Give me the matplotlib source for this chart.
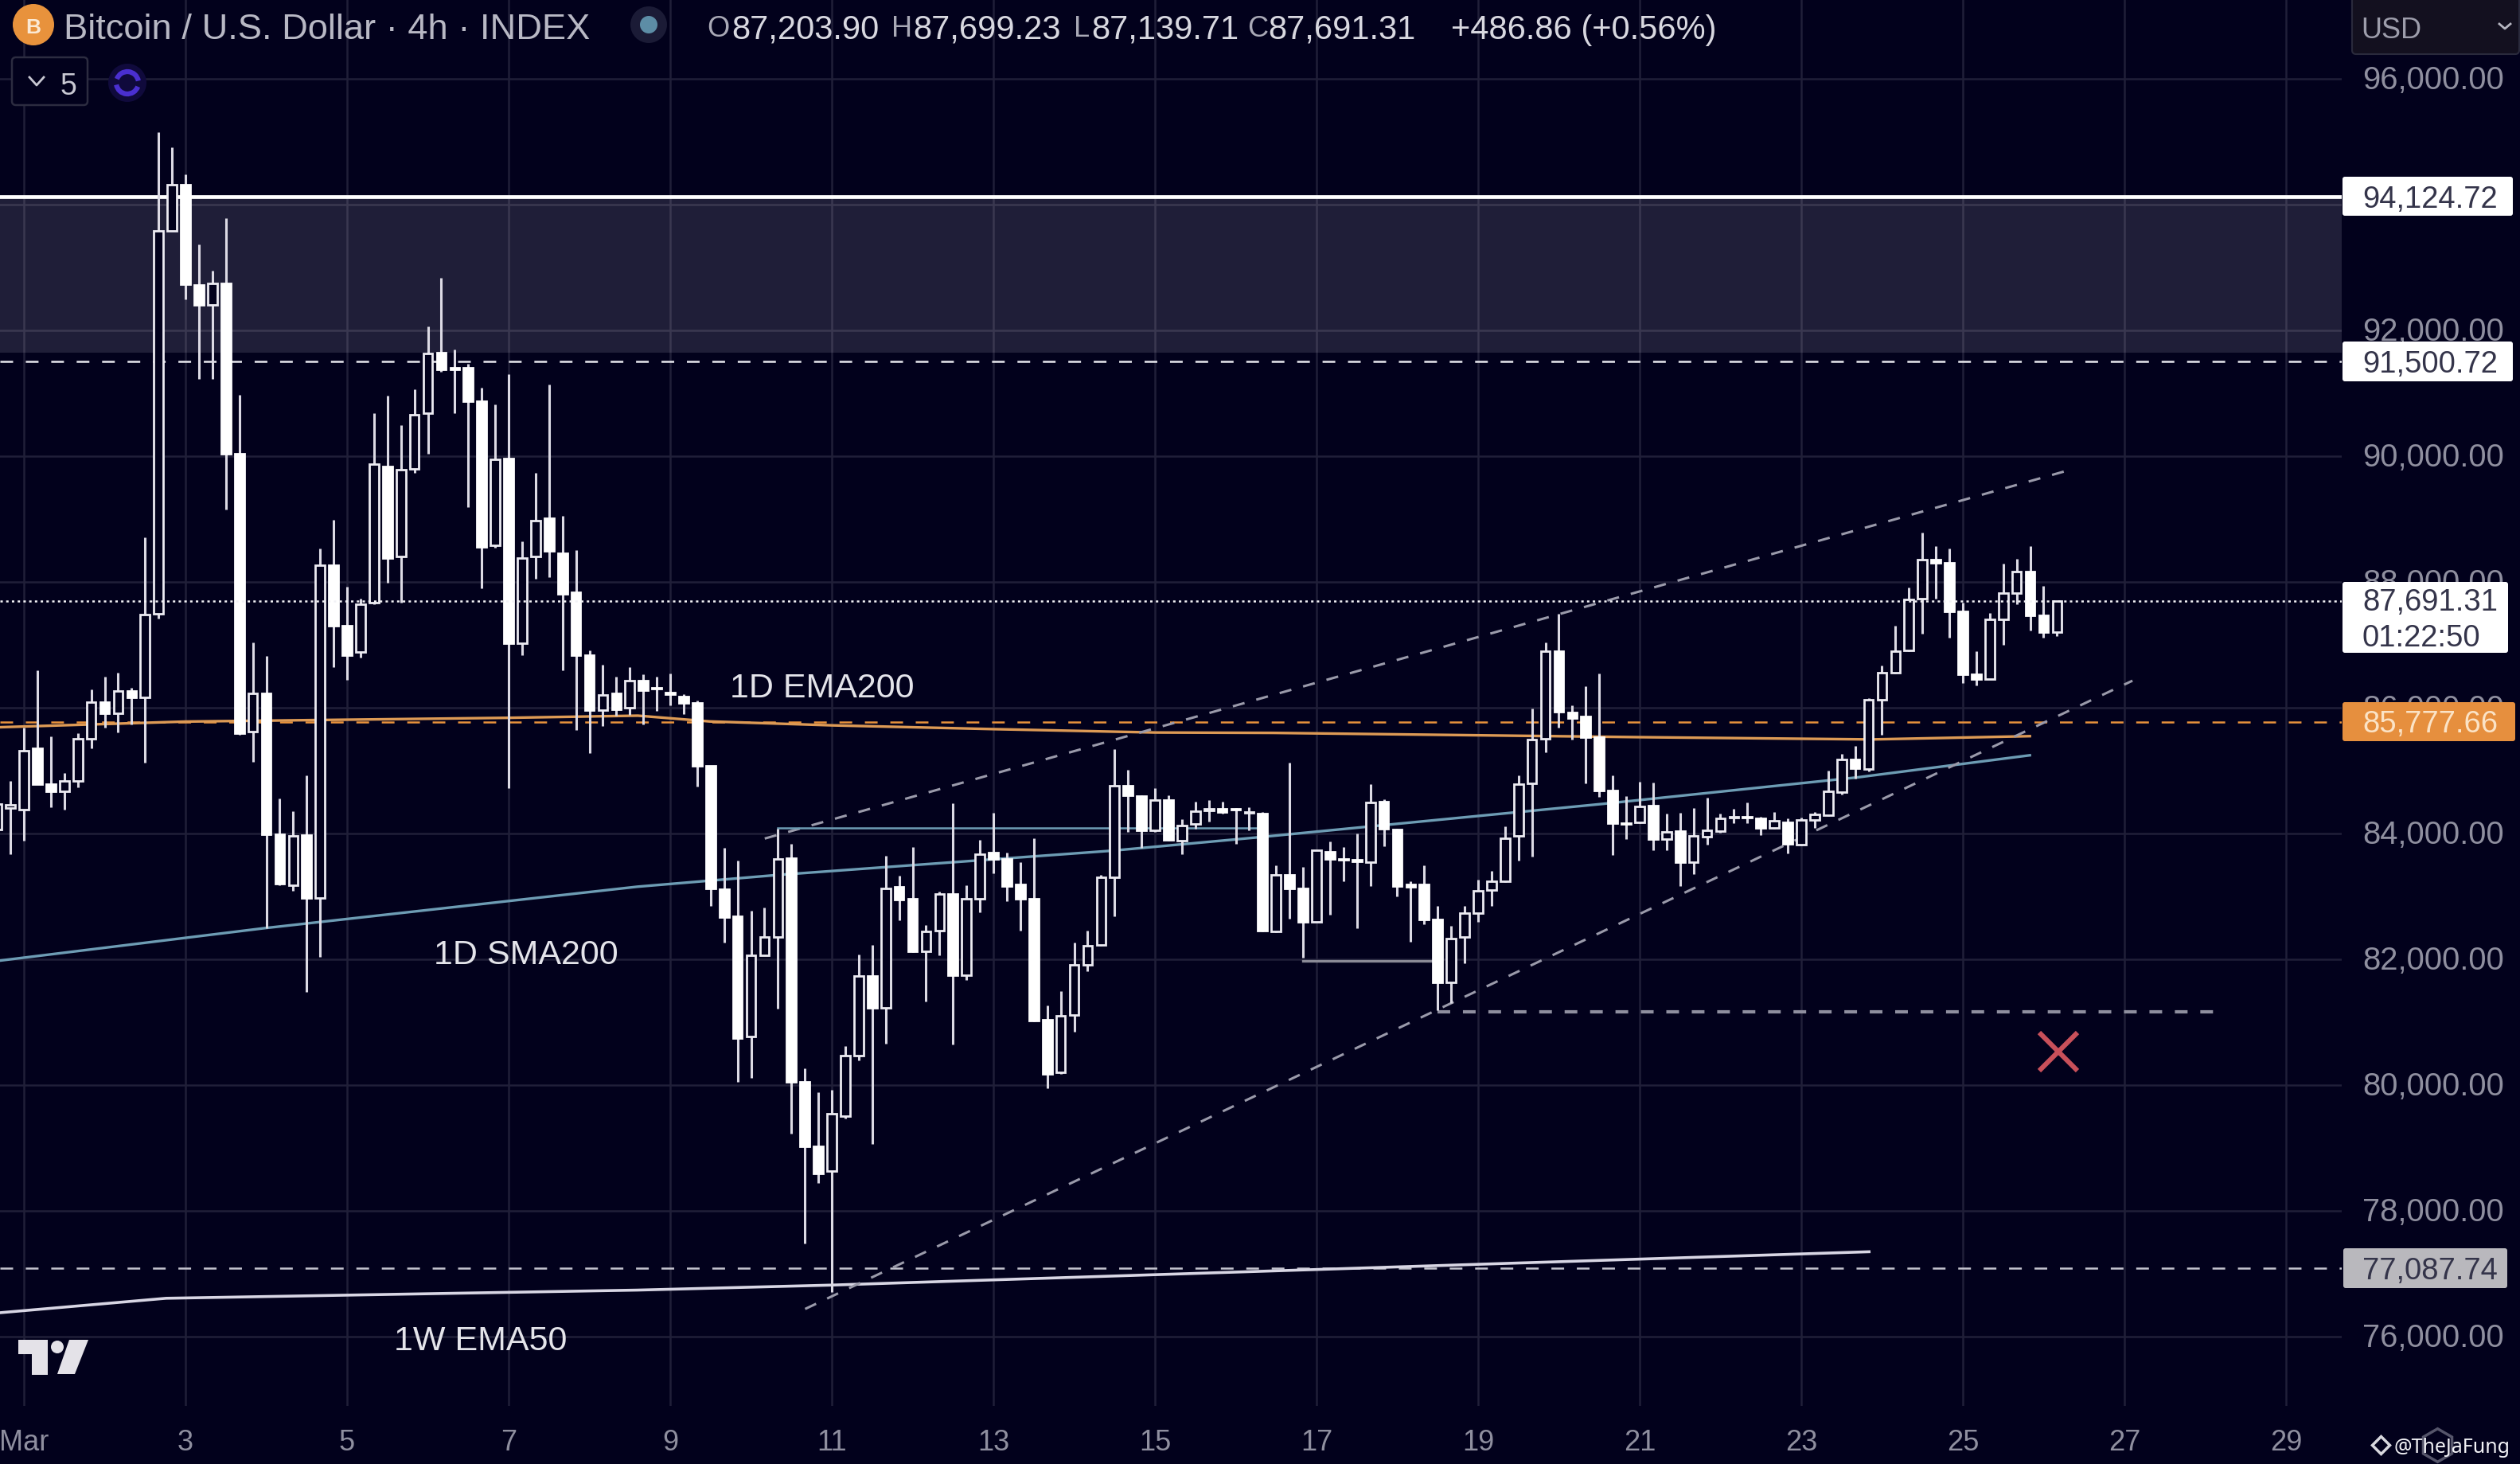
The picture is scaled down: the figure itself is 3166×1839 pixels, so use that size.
"""Bitcoin 4h candlestick chart with support/resistance levels and trend lines."""

import matplotlib

matplotlib.use("Agg", force=True)
import matplotlib.pyplot as plt
import numpy as np
from matplotlib.patches import Arc, Circle, FancyBboxPatch, Polygon
from matplotlib.ticker import FuncFormatter
from matplotlib.transforms import ScaledTranslation

# 4h candles, first one is 29 Feb 16:00 (position in days of March)
opens = [
    84060, 84410, 84380, 85350, 84780, 84670, 84830, 85510, 86090, 85910,
    86270, 86170, 87490, 93580, 94320, 92720, 92400, 92750, 90040, 85620,
    86230, 83990, 83180, 83970, 82970, 88260, 87310, 86890, 87670, 89840,
    88400, 89800, 90690, 91650, 91410, 91410, 90870, 88580, 89960, 87020,
    88400, 89010, 88460, 87830, 86830, 85960, 86230, 86000, 86430, 86320,
    86240, 86180, 86070, 85070, 83110, 82680, 80770, 82060, 82360, 83610,
    80050, 79030, 78630, 79510, 80470, 81730, 81230, 83150, 82960, 82130,
    82460, 83040, 81750, 82960, 83700, 83600, 83190, 82960, 81040, 80200,
    81120, 81910, 82230, 83310, 84760, 84590, 84050, 84530, 83880, 84150,
    84370, 84390, 84390, 84330, 84320, 82440, 83340, 83130, 82600, 83710,
    83590, 83580, 83550, 84510, 84060, 83190, 83190, 82630, 81630, 82360,
    82740, 83100, 83240, 83960, 84800, 85510, 86900, 85930, 85860, 85530,
    84680, 84170, 84180, 84440, 83910, 84040, 83540, 83950, 84040, 84250,
    84270, 84240, 84090, 84180, 83820, 84220, 84290, 84660, 85180, 85020,
    86130, 86560, 86910, 87740, 88360, 88300, 87530, 86530, 86460, 87410,
    87820, 88160, 87470, 87203.90,
]
highs = [
    84740, 84830, 85690, 86590, 85550, 84960, 85600, 86290, 86500, 86560,
    86320, 88710, 95150, 94910, 94480, 93370, 92950, 93780, 90970, 87040,
    86820, 84560, 84360, 84920, 88530, 88990, 87920, 87740, 90690, 90960,
    90500, 91060, 92060, 92830, 91700, 91470, 91090, 90820, 91310, 88640,
    89740, 91140, 89050, 88510, 86910, 86680, 86500, 86640, 86530, 86490,
    86540, 86220, 86120, 85080, 83770, 83570, 82770, 82820, 84070, 83830,
    80260, 79890, 79930, 80620, 82080, 82230, 83640, 83330, 83790, 82540,
    83080, 84480, 83180, 83900, 84330, 83700, 83540, 83920, 81260, 81490,
    82270, 82460, 83340, 85340, 85010, 84610, 84720, 84610, 84230, 84510,
    84530, 84510, 84400, 84420, 84340, 83500, 85130, 83470, 83740, 83870,
    83790, 84000, 84780, 84550, 84080, 83240, 83500, 82850, 82530, 82850,
    83270, 83400, 84120, 84930, 85990, 87040, 87490, 86040, 86340, 86550,
    84920, 84600, 84820, 84810, 84320, 84330, 84410, 84570, 84320, 84390,
    84500, 84260, 84340, 84240, 84250, 84340, 85000, 85260, 85390, 86150,
    86670, 87310, 87910, 88790, 88570, 88530, 87670, 86900, 87510, 88290,
    88370, 88570, 87940, 87699.23,
]
lows = [
    84030, 83670, 83880, 84780, 84420, 84380, 84740, 85350, 85690, 85610,
    85730, 85130, 87420, 93580, 92490, 91230, 91230, 89150, 85570, 85140,
    82490, 83180, 83090, 81480, 82040, 86650, 86440, 86800, 87650, 87990,
    87670, 89740, 90040, 91340, 90690, 89190, 87900, 88550, 84720, 86830,
    88050, 88080, 86590, 85640, 85280, 85710, 85870, 85890, 85740, 85950,
    86040, 85900, 84750, 82850, 82270, 80050, 80110, 82060, 81210, 79230,
    77480, 78440, 76710, 79470, 80390, 79060, 80660, 82620, 82120, 81330,
    82060, 80640, 81670, 82750, 83370, 82920, 82460, 81010, 79950, 80180,
    80850, 81810, 82220, 82690, 84020, 83770, 84020, 83880, 83670, 84070,
    84190, 84320, 83830, 84050, 82440, 82430, 82640, 82030, 82590, 82710,
    83240, 82500, 83160, 83800, 83000, 82280, 82560, 81190, 81300, 81940,
    82590, 82850, 83230, 83570, 83630, 85290, 85680, 85500, 84800, 84580,
    83660, 83910, 84170, 83740, 83740, 83170, 83360, 83820, 84010, 84160,
    84160, 83970, 84080, 83690, 83810, 84090, 84280, 84620, 84870, 84990,
    85570, 86550, 86900, 87180, 87730, 87120, 86390, 86350, 86450, 87000,
    87650, 87230, 87110, 87139.71,
]
closes = [
    84470, 84450, 85320, 84780, 84670, 84830, 85510, 86090, 85910, 86260,
    86170, 87480, 93580, 94320, 92740, 92400, 92750, 90040, 85600, 86230,
    83990, 83200, 83960, 82970, 88260, 87300, 86840, 87650, 89870, 88380,
    89780, 90660, 91630, 91380, 91380, 90870, 88560, 89950, 87020, 88380,
    88970, 88490, 87810, 86830, 85960, 86200, 85980, 86430, 86280, 86300,
    86220, 86070, 85070, 83130, 82670, 80750, 82060, 82350, 83590, 80050,
    79030, 78600, 79550, 80470, 81730, 81230, 83130, 82950, 82130, 82440,
    83040, 81750, 82960, 83670, 83590, 83170, 82960, 81030, 80180, 81100,
    81910, 82220, 83310, 84760, 84610, 84050, 84530, 83900, 84130, 84360,
    84390, 84340, 84380, 84340, 82450, 83340, 83130, 82590, 83730, 83600,
    83580, 83560, 84500, 84080, 83160, 83150, 82630, 81630, 82330, 82740,
    83090, 83240, 83920, 84790, 85500, 86900, 85940, 85840, 85530, 84680,
    84160, 84150, 84430, 83910, 84020, 83540, 83960, 84050, 84240, 84270,
    84250, 84090, 84200, 83830, 84210, 84300, 84670, 85180, 85040, 86130,
    86560, 86900, 87720, 88360, 88310, 87530, 86530, 86460, 87410, 87820,
    88160, 87470, 87200, 87691.31,
]

# the 94,000 label is hidden behind the level box on the original price scale
price_ticks = [76000, 78000, 80000, 82000, 84000, 86000, 88000, 90000, 92000, 94000, 96000]
hidden_price_ticks = [94000]
day_ticks = [1, 3, 5, 7, 9, 11, 13, 15, 17, 19, 21, 23, 25, 27, 29]
day_labels = ["Mar", "3", "5", "7", "9", "11", "13", "15", "17", "19", "21", "23", "25", "27", "29"]

# moving averages, (day, price)
ema200_days = [0.70, 3.0, 7.0, 8.6, 9.49, 11.0, 13.0, 15.0, 16.47, 21.0, 23.87, 25.83]
ema200_prices = [85690, 85780, 85840, 85874, 85782, 85720, 85660, 85606, 85600, 85532, 85496, 85548]
sma200_days = [0.70, 3.97, 8.59, 10.35, 14.47, 16.23, 20.55, 23.69, 25.83]
sma200_prices = [81979, 82494, 83154, 83343, 83727, 83934, 84472, 84892, 85244]
w1_ema50_days = [0.70, 2.76, 8.59, 11.0, 23.84]
w1_ema50_prices = [76380, 76610, 76740, 76820, 77350]

# channel and level drawings
lower_trend_days = [10.67, 27.1]
lower_trend_prices = [76440, 86430]
upper_trend_days = [10.17, 26.32]
upper_trend_prices = [83920, 89780]

resistance_level = 94124.72
zone_bottom = 91640
dashed_levels = [91500.72, 77087.74]
ema_level = 85777.66
last_price = 87691.31

BG = "#02011c"
GRID = "#201f38"
LABEL = "#8f8f9f"
FONT = "Liberation Sans"
W, H = 3166, 1840
DASH = (0, (11.5, 11.5))


def draw_candles(ax):
    pos = 1 + np.arange(-2, len(opens) - 2) / 6
    o = np.array(opens)
    c = np.array(closes)
    ax.vlines(pos, lows, highs, color="#dcdae4", lw=2.2, zorder=4)
    up = c >= o
    top = np.maximum(o, c)
    bottom = np.minimum(o, c)
    body = 0.115
    ax.bar(pos[up], (top - bottom)[up], bottom=bottom[up], width=body,
           facecolor=BG, edgecolor="#ecebf2", linewidth=2.0, zorder=5)
    ax.bar(pos[~up], (top - bottom)[~up], bottom=bottom[~up], width=body,
           facecolor="white", edgecolor="white", linewidth=2.0, zorder=5)


def price_box(over, x0, y0, x1, y1, color, lines, text_color="#34344a"):
    over.add_patch(FancyBboxPatch((x0 + 3, y0 + 3), x1 - x0 - 6, y1 - y0 - 6, boxstyle="round,pad=3",
                                  facecolor=color, edgecolor="none", zorder=6))
    step = (y1 - y0) / len(lines)
    for i, line in enumerate(lines):
        over.text(2968, y0 + step * (i + 0.5) - 1, line, color=text_color, fontsize=27.5, family=FONT,
                  va="center_baseline", ha="left", zorder=7)


def draw_chrome(over):
    # price scale boxes
    price_box(over, 2943, 223, 3157, 272, "#ffffff", ["94,124.72"])
    price_box(over, 2943, 430, 3157, 480, "#ffffff", ["91,500.72"])
    price_box(over, 2943, 732, 3151, 821, "#ffffff", ["87,691.31", "01:22:50"])
    price_box(over, 2943, 883, 3160, 932, "#e68f3e", ["85,777.66"], text_color="#fbe3c6")
    price_box(over, 2944, 1569, 3150, 1619, "#b9b8bd", ["77,087.74"])

    # currency selector
    over.add_patch(FancyBboxPatch((2960, -10), 200, 74, boxstyle="round,pad=5", facecolor="#13101f",
                                  edgecolor="#2a2a3c", lw=1.5, zorder=6))
    over.text(2966, 34, "USD", color="#9d9dab", fontsize=26, family=FONT, va="center_baseline", zorder=7)
    over.plot([3140, 3147, 3154], [31, 37, 31], color="#b5b5c0", lw=2, zorder=7)

    # header
    over.add_patch(Circle((42, 32), 26, facecolor="#e8923c", edgecolor="none", zorder=7))
    over.text(42, 33, "B", color="#fbe9d4", fontsize=19, family=FONT, weight="bold",
              ha="center", va="center_baseline", zorder=8)
    over.text(80, 33, "Bitcoin / U.S. Dollar · 4h · INDEX", color="#b8b8c4", fontsize=32.6, family=FONT,
              va="center_baseline", zorder=7)
    over.add_patch(Circle((815, 32), 23, facecolor="#1b1b36", edgecolor="none", zorder=7))
    over.add_patch(Circle((815, 32), 11, facecolor="#5d8da6", edgecolor="none", zorder=8))
    ohlc = [(888, "O", 919, "87,203.90"), (1120, "H", 1147, "87,699.23"),
            (1349, "L", 1371, "87,139.71"), (1567, "C", 1593, "87,691.31")]
    for x_label, key, x_value, value in ohlc:
        over.text(x_label, 33, key, color="#a9a9b6", fontsize=26, family=FONT, va="center_baseline", zorder=7)
        over.text(x_value, 33, value, color="#d8d8e0", fontsize=30, family=FONT, va="center_baseline", zorder=7)
    over.text(1823, 33, "+486.86 (+0.56%)", color="#d8d8e0", fontsize=30, family=FONT,
              va="center_baseline", zorder=7)

    # collapsed indicators button
    over.add_patch(FancyBboxPatch((20, 78), 85, 50, boxstyle="round,pad=5", facecolor=BG,
                                  edgecolor="#2c2c40", lw=1.8, zorder=6))
    over.plot([37, 46, 55], [98, 108, 98], color="#c8c8d2", lw=2, zorder=7)
    over.text(86, 105, "5", color="#c8c8d2", fontsize=27, family=FONT, ha="center",
              va="center_baseline", zorder=7)
    over.add_patch(Circle((160, 105), 24, facecolor="#100a3c", edgecolor="none", zorder=6))
    over.add_patch(Arc((160, 105), 28, 28, theta1=20, theta2=170, color="#4a2fd0", lw=4.5, zorder=7))
    over.add_patch(Arc((160, 105), 28, 28, theta1=200, theta2=350, color="#4a2fd0", lw=4.5, zorder=7))

    # TradingView logo
    logo = "#e4e2e8"
    over.add_patch(Polygon([(23, 1684), (60, 1684), (60, 1728), (40, 1728), (40, 1702), (23, 1702)],
                           facecolor=logo, edgecolor="none", zorder=7))
    over.add_patch(Circle((72, 1693), 8, facecolor=logo, edgecolor="none", zorder=7))
    over.add_patch(Polygon([(87, 1684), (111, 1684), (94, 1727), (72, 1727)],
                           facecolor=logo, edgecolor="none", zorder=7))

    # watermark
    over.plot([3062], [1816], marker="h", ms=30, mfc="none", mec="#55556a", mew=2.5, zorder=7)
    over.plot([2991], [1816], marker="D", ms=11, mfc="none", mec="#d8d8de", mew=2.5, zorder=8)
    over.text(3008, 1816, "@TheJaFung", color="#f2f2f6", fontsize=18, family="Noto Sans",
              va="center_baseline", zorder=8)


def main():
    plt.rcParams["lines.scale_dashes"] = False
    fig = plt.figure(figsize=(W / 100, H / 100), dpi=100, facecolor=BG)
    ax = fig.add_axes([0, (H - 1767) / H, 2942 / W, 1767 / H], facecolor=BG)
    ax.set_xlim(0.704, 29.69)
    ax.set_ylim(74899, 97266)
    for spine in ax.spines.values():
        spine.set_visible(False)

    ax.yaxis.tick_right()
    ax.set_yticks(price_ticks)
    ax.yaxis.set_major_formatter(FuncFormatter(lambda v, _: "" if v in hidden_price_ticks else f"{v:,.2f}"))
    ax.set_xticks(day_ticks)
    ax.set_xticklabels(day_labels)
    ax.tick_params(axis="y", length=0, pad=19, labelcolor=LABEL, labelsize=28.8)
    ax.tick_params(axis="x", length=0, pad=20, labelcolor=LABEL, labelsize=26)
    nudge = ScaledTranslation(0, 3 / 100, fig.dpi_scale_trans)
    for label in ax.get_yticklabels():
        label.set_family(FONT)
        label.set_transform(label.get_transform() + nudge)
    for label in ax.get_xticklabels():
        label.set_family(FONT)
    ax.grid(True, color=GRID, lw=1.8, zorder=0)
    ax.set_axisbelow(True)

    # resistance zone and horizontal levels, grid stays visible through the zone
    ax.axhspan(zone_bottom, resistance_level, color="#f0ebff", alpha=0.125, lw=0, zorder=1)
    ax.axhline(resistance_level, color="white", lw=3.4, zorder=3)
    for level in dashed_levels:
        ax.axhline(level, color="#e8e8ee" if level > 80000 else "#c4c4ce", lw=1.8, ls=DASH, zorder=3)
    ax.axhline(ema_level, color="#e8913c", lw=1.8, ls=DASH, zorder=3)

    # moving averages
    ax.plot(ema200_days, ema200_prices, color="#dd9a55", lw=2.4, zorder=3)
    ax.plot(sma200_days, sma200_prices, color="#6d9cb4", lw=2.4, zorder=3)
    ax.plot(w1_ema50_days, w1_ema50_prices, color="#d8d6e4", lw=2.6, zorder=3)

    # channel
    for days, prices in ((lower_trend_days, lower_trend_prices), (upper_trend_days, upper_trend_prices)):
        ax.plot(days, prices, color="#9a9aaa", lw=2.2, ls=(0, (11, 11)), zorder=3)

    # smaller drawings
    ax.plot([10.33, 16.3], [84095, 84095], color="#6d9cb4", lw=1.8, zorder=3)
    ax.plot([16.83, 18.42], [81979, 81979], color="#8a8a96", lw=2.4, zorder=3)
    ax.plot([18.5, 28.15], [81165, 81165], color="#8f8f9f", lw=3, ls=DASH, zorder=3)
    ax.plot([26.18], [80527], marker="x", ms=34, mew=4.4, color="#c8505a", zorder=3)

    draw_candles(ax)
    ax.axhline(last_price, color="#f2f2f6", lw=1.8, ls=(0, (2.2, 3)), zorder=6)

    for x, y, text in ((9.74, 86320, "1D EMA200"), (6.07, 82080, "1D SMA200"), (5.58, 75940, "1W EMA50")):
        ax.text(x, y, text, color="#e4e4ea", fontsize=31, family=FONT, ha="left", va="center", zorder=7)

    over = fig.add_axes([0, 0, 1, 1], facecolor="none")
    over.set_xlim(0, W)
    over.set_ylim(H, 0)
    over.axis("off")
    draw_chrome(over)

    fig.savefig("out.png", dpi=100, facecolor=BG)
    plt.close(fig)


if __name__ == "__main__":
    main()
